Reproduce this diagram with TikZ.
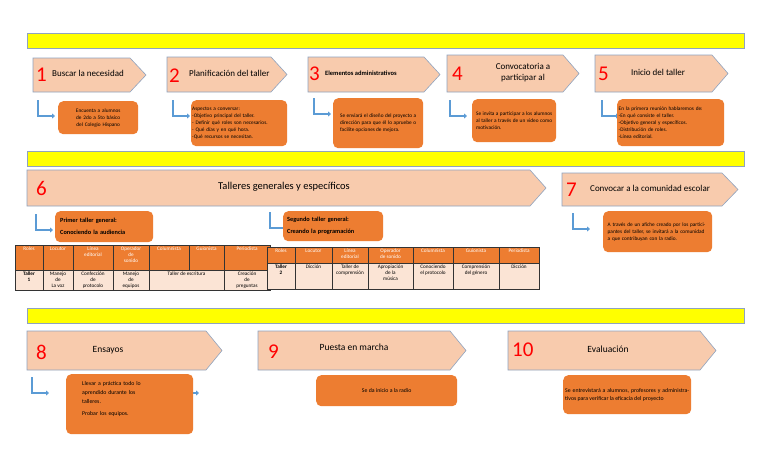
\documentclass[tikz,border=0pt]{standalone}
\usepackage{fontspec}
\setmainfont{Carlito}
\usetikzlibrary{arrows.meta}
\definecolor{yel}{HTML}{FFFF00}
\definecolor{peach}{HTML}{F8CBAD}
\definecolor{edgeb}{HTML}{8FA3BF}
\definecolor{org}{HTML}{ED7D31}
\definecolor{pale}{HTML}{FBE4D5}
\definecolor{lblue}{HTML}{5B9BD5}
\definecolor{numred}{HTML}{FF0000}
\tikzset{
 ybar/.style={fill=yel,draw=edgeb,line width=0.8},
 pent/.style={fill=peach,draw=edgeb,line width=0.6},
 obox/.style={fill=org,rounded corners=5,draw=none},
 otxt/.style={font=\fontsize{5.3}{7}\selectfont,align=justify,inner sep=0},
 num/.style={text=numred,font=\fontsize{21}{21}\selectfont,inner sep=0},
 ttl/.style={font=\fontsize{9}{11}\selectfont,inner sep=0,align=center},
 larrow/.style={draw=lblue,line width=2.2,-{Triangle[length=3,width=5]}},
 cellb/.style={draw=black!80,line width=0.6},
 ctxt/.style={font=\fontsize{5.2}{6.3}\selectfont,inner sep=0,align=center,anchor=north},
}
\newcommand{\pentbox}[5]{% name x1 y1 x2 y2
 \draw[pent] (#2,#3) -- (#4-16,#3) -- (#4,{(#3+#5)/2}) -- (#4-16,#5) -- (#2,#5) -- cycle;
 \coordinate (#1) at ({(#2+#4)/2},{(#3+#5)/2});}
\newcommand{\lic}[2]{\draw[larrow] (#1,#2) -- (#1,#2+16) -- (#1+17,#2+16);}
\newcommand{\cellx}[6]{% x1 x2 y1 y2 fill text
 \draw[cellb,fill=#5] (#1,#3) rectangle (#2,#4);
 \node[ctxt] at ({(#1+#2)/2},#3+1.5) {#6};}
\begin{document}
\begin{tikzpicture}[x=1pt,y=-1pt]
\useasboundingbox[fill=white] (0,0) rectangle (768,466);
% yellow bars
\draw[ybar] (27,33) rectangle (744,48);
\draw[ybar] (27,151) rectangle (744,166);
\draw[ybar] (27,308) rectangle (744,323);
% row 1
\pentbox{p1}{33}{58}{146}{92}
\node[num,anchor=west] (n1) at (36,75) {1};
\node[ttl,anchor=west] (t1) at (52,73) {Buscar la necesidad};
\pentbox{p2}{167}{57}{287}{92}
\node[num,anchor=west] (n2) at (169,76) {2};
\node[ttl,anchor=west] (t2) at (189,73) {Planificación del taller};
\pentbox{p3}{308}{57}{440}{92}
\node[num,anchor=west] (n3) at (309,74) {3};
\node[ttl,anchor=west,font=\bfseries\fontsize{6.5}{8}\selectfont] (t3) at (325,73) {Elementos administrativos};
\pentbox{p4}{447}{55}{579}{92}
\node[num,anchor=west] (n4) at (452,74) {4};
\node[ttl] (t4) at (523,73) {Convocatoria a\\participar al};
\pentbox{p5}{595}{55}{728}{92}
\node[num,anchor=west] (n5) at (598,74) {5};
\node[ttl] (t5) at (658,72) {Inicio del taller};
\lic{38}{100}\lic{173}{100}\lic{314}{98}\lic{450}{100}\lic{602}{100}
\node[obox,anchor=north west,minimum width=80,minimum height=33] (o1) at (58,101) {};
\node[otxt,text width=62,align=center] at (o1) {Encuenta a alumnos de 2do a 5to básico del Colegio Hispano};
\node[obox,anchor=north west,minimum width=96,minimum height=46] (o2) at (191,100) {};
\node[otxt,text width=94,align=left] at (o2) {Aspectos a conversar:\\-Objetivo principal del taller.\\- Definir qué roles son necesarios.\\- Qué días y en qué hora.\\-Qué recursos se necesitan.};
\node[obox,anchor=north west,minimum width=90,minimum height=50] (o3) at (333,98) {};
\node[otxt,text width=76] at (o3) {Se enviará el diseño del proyecto a dirección para que él lo apruebe o facilite opciones de mejora.};
\node[obox,anchor=north west,minimum width=84,minimum height=43] (o4) at (472,99) {};
\node[otxt,text width=76] at (o4) {Se invita a participar a los alumnos al taller a través de un video como motivación.};
\node[obox,anchor=north west,minimum width=107,minimum height=47] (o5) at (617,99) {};
\node[otxt,text width=104,align=left] at (o5) {En la primera reunión hablaremos de:\\-En qué consiste el taller.\\-Objetivo general y específicos.\\-Distribución de roles.\\-Línea editorial.};
% row 2
\pentbox{p6}{27}{170}{546}{206}
\node[num,anchor=west] (n6) at (36,188) {6};
\node[ttl,font=\fontsize{10.5}{12}\selectfont] (t6) at (284,187) {Talleres generales y específicos};
\pentbox{p7}{562}{173}{738}{206}
\node[num,anchor=west] (n7) at (566,190) {7};
\node[ttl,anchor=west] (t7) at (590,188) {Convocar a la comunidad escolar};
\lic{36}{214}\lic{270}{212}\lic{573}{213}
\node[obox,anchor=north west,minimum width=98,minimum height=31] (o6a) at (55,211) {};
\node[otxt,font=\bfseries\fontsize{6.3}{12}\selectfont,align=left,text width=88] at (o6a) {Primer taller general:\\Conociendo la audiencia};
\node[obox,anchor=north west,minimum width=100,minimum height=30] (o6b) at (283,211) {};
\node[otxt,font=\bfseries\fontsize{6.3}{12}\selectfont,align=left,text width=92] at (o6b) {Segundo taller general:\\Creando la programación};
\node[obox,anchor=north west,minimum width=109,minimum height=41] (o7) at (603,211) {};
\node[otxt,text width=100,align=left] at (o7) {A través de un afiche creado por los participantes del taller, se invitará a la comunidad a que contribuyan con la radio.};
% table 1
\begin{scope}[every node/.append style={text=white}]
\cellx{15}{43}{245}{270}{org}{Roles}
\cellx{43}{73}{245}{270}{org}{Locutor}
\cellx{73}{113}{245}{270}{org}{Línea\\editorial}
\cellx{113}{149}{245}{270}{org}{Operador\\de\\sonido}
\cellx{149}{189}{245}{270}{org}{Columnista}
\cellx{189}{224}{245}{270}{org}{Guionista}
\cellx{224}{270}{245}{270}{org}{Periodista}
\end{scope}
\cellx{15}{43}{270}{290}{pale}{\textbf{Taller}\\\textbf{1}}
\cellx{43}{73}{270}{290}{pale}{Manejo\\de\\La voz}
\cellx{73}{113}{270}{290}{pale}{Confección\\de\\protocolo}
\cellx{113}{149}{270}{290}{pale}{Manejo\\de\\equipos}
\cellx{149}{224}{270}{290}{pale}{Taller de escritura}
\cellx{224}{270}{270}{290}{pale}{Creación\\de\\preguntas}
% table 2
\begin{scope}[every node/.append style={text=white}]
\cellx{267}{295}{247}{263}{org}{Roles}
\cellx{295}{332}{247}{263}{org}{Locutor}
\cellx{332}{368}{247}{263}{org}{Línea\\editorial}
\cellx{368}{413}{247}{263}{org}{Operador\\de sonido}
\cellx{413}{453}{247}{263}{org}{Columnista}
\cellx{453}{499}{247}{263}{org}{Guionista}
\cellx{499}{539}{247}{263}{org}{Periodista}
\end{scope}
\cellx{267}{295}{263}{289}{pale}{\textbf{Taller}\\\textbf{2}}
\cellx{295}{332}{263}{289}{pale}{Dicción}
\cellx{332}{368}{263}{289}{pale}{Taller de\\comprensión}
\cellx{368}{413}{263}{289}{pale}{Apropiación\\de la\\música}
\cellx{413}{453}{263}{289}{pale}{Conociendo\\el protocolo}
\cellx{453}{499}{263}{289}{pale}{Comprensión\\del género}
\cellx{499}{539}{263}{289}{pale}{Dicción}
% row 3
\pentbox{p8}{27}{331}{222}{370}
\node[num,anchor=west] (n8) at (36,352) {8};
\node[ttl,font=\fontsize{9.5}{11}\selectfont] (t8) at (108,350) {Ensayos};
\pentbox{p9}{258}{331}{466}{370}
\node[num,anchor=west] (n9) at (268,352) {9};
\node[ttl,font=\fontsize{9.5}{11}\selectfont] (t9) at (354,347) {Puesta en marcha};
\pentbox{p10}{508}{331}{716}{370}
\node[num,anchor=west] (n10) at (512,350) {10};
\node[ttl,font=\fontsize{9.5}{11}\selectfont] (t10) at (608,349) {Evaluación};
\lic{32}{377}\lic{182}{377}\lic{353}{377}
\node[obox,anchor=north west,minimum width=127,minimum height=60] (o8) at (66,374) {};
\node[otxt,anchor=north west,text width=70,align=left,font=\fontsize{5.8}{9}\selectfont] at (82,381) {Llevar a práctica todo lo aprendido durante los talleres.\\[3pt]Probar los equipos.};
\node[obox,anchor=north west,minimum width=141,minimum height=31] (o9) at (316,375) {};
\node[otxt,font=\fontsize{5.8}{7}\selectfont] at (o9) {Se da inicio a la radio};
\node[obox,anchor=north west,minimum width=128,minimum height=39] (o10) at (563,375) {};
\node[otxt,text width=124,font=\fontsize{5.8}{8.5}\selectfont] at (o10) {Se entrevistará a alumnos, profesores y administrativos para verificar la eficacia del proyecto};
\end{tikzpicture}
\end{document}
